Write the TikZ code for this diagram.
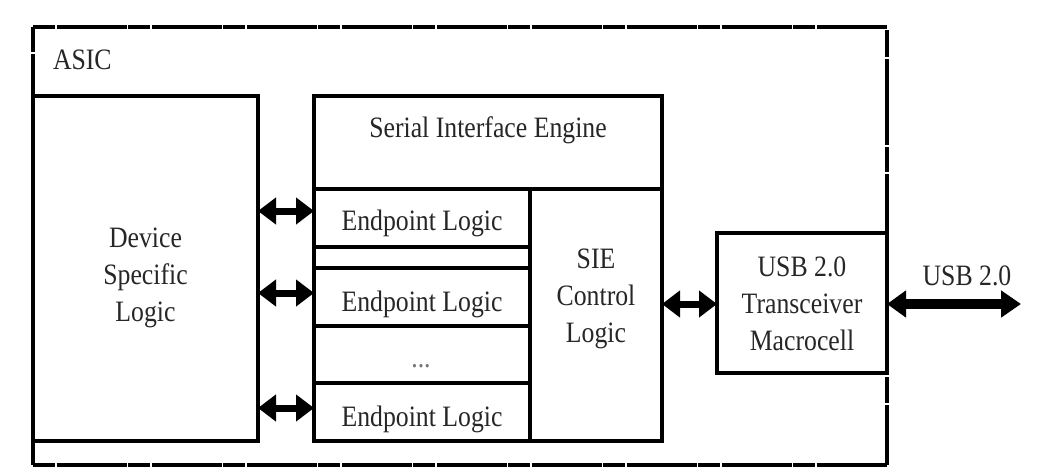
\documentclass[tikz,border=0pt]{standalone}
\usepackage{fontspec}
\setmainfont[FakeStretch=0.87]{Liberation Serif}
\usetikzlibrary{arrows.meta}
\tikzset{
  x=1pt,y=-1pt,
  blockbox/.style={draw=black,line width=3.6pt,minimum width=#1,inner sep=0pt,outer sep=0pt},
  plainlabel/.style={inner sep=0pt,outer sep=0pt,align=center,text=black!85,font=\fontsize{29.6}{37}\selectfont},
  asicline/.style={black,line width=3.6pt,dash pattern=on 21.5pt off 2pt on 70pt off 1.5pt},
  biarrow/.style={line width=7pt,{Triangle[length=18pt,width=26pt]}-{Triangle[length=18pt,width=26pt]},black},
  bigarrow/.style={line width=10pt,{Triangle[length=19pt,width=26pt]}-{Triangle[length=20pt,width=26pt]},black}
}
\begin{document}
\begin{tikzpicture}
\useasboundingbox (0,0) rectangle (1046,471);
\node[inner sep=0pt,outer sep=0pt,minimum width=854pt,minimum height=438pt] (asic) at (460,246) {};
\draw[asicline] (asic.north west) -- (asic.north east);
\draw[asicline] (asic.south west) -- (asic.south east);
\draw[black,line width=3.6pt,dash pattern=on 25pt off 2pt on 500pt] (asic.north west) -- (asic.south west);
\node[plainlabel,anchor=base west] (asiclabel) at (53,69) {ASIC};

\node[blockbox={225pt},minimum height=345pt] (dsl) at (145.5,268.5) {};
\node[plainlabel] (dsltext) at (145.5,278) {Device\\Specific\\Logic};
\node[blockbox={348pt},minimum height=93pt] (sie) at (488,142.5) {};
\node[plainlabel,anchor=base] (sietext) at (488,137) {Serial Interface Engine};
\node[blockbox={216pt},minimum height=58pt] (ep1) at (422,218) {};
\node[plainlabel,anchor=base] (ep1text) at (422,230) {Endpoint Logic};
\node[blockbox={216pt},minimum height=21pt] (sp1) at (422,257.5) {};
\node[blockbox={216pt},minimum height=58pt] (ep2) at (422,297) {};
\node[plainlabel,anchor=base] (ep2text) at (422,311) {Endpoint Logic};
\node[blockbox={216pt},minimum height=57pt] (dots) at (422,354.5) {};
\node[plainlabel,anchor=base,text=black!55] (dotstext) at (421,367) {...};
\node[blockbox={216pt},minimum height=58pt] (ep3) at (422,412) {};
\node[plainlabel,anchor=base] (ep3text) at (422,426) {Endpoint Logic};
\node[blockbox={132pt},minimum height=252pt] (ctrl) at (596,315) {};
\node[plainlabel] (ctrltext) at (596,299) {SIE\\Control\\Logic};
\node[blockbox={170pt},minimum height=140pt] (usb) at (802,303) {};
\node[plainlabel] (usbtext) at (802,304) {USB 2.0\\Transceiver\\Macrocell};

\draw[black,line width=3.6pt,dash pattern=on 27pt off 2pt on 86pt off 2pt on 25pt off 2pt on 90pt] ([yshift=-3pt]asic.north east) -- (usb.north east);
\draw[black,line width=3.6pt,dash pattern=on 25.5pt off 2pt on 100pt] ([yshift=-4pt]usb.south east) -- (asic.south east);

\node[plainlabel,anchor=base] (usblabel) at (967,285) {USB 2.0};
\coordinate (out) at (1021,304);

\draw[biarrow] ([yshift=7pt]dsl.east |- ep1.west) -- ([yshift=7pt]ep1.west);
\draw[biarrow] ([yshift=4pt]dsl.east |- ep2.west) -- ([yshift=4pt]ep2.west);
\draw[biarrow] ([yshift=4pt]dsl.east |- ep3.west) -- ([yshift=4pt]ep3.west);
\draw[biarrow] (ctrl.east |- out) -- (usb.west |- out);
\draw[bigarrow] (usb.east |- out) -- (out);
\end{tikzpicture}
\end{document}
